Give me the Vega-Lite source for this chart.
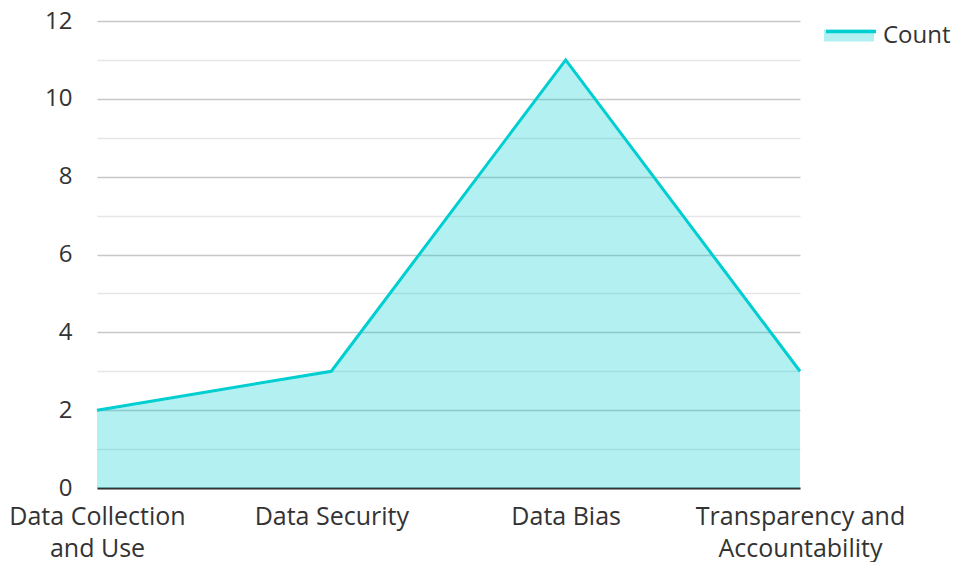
{
  "$schema": "https://vega.github.io/schema/vega-lite/v6.json",
  "width": 703,
  "height": 467,
  "autosize": {"type": "none"},
  "padding": {"left": 97, "top": 21, "right": 156, "bottom": 74},
  "config": {
    "font": "Open Sans",
    "view": {"stroke": null},
    "axis": {"labelFont": "Open Sans", "labelFontSize": 24, "labelColor": "#333333"},
    "legend": {"labelFont": "Open Sans", "labelFontSize": 24, "labelColor": "#333333"}
  },
  "data": {
    "values": [
      {"topic": "Data Collection and Use", "count": 2},
      {"topic": "Data Security", "count": 3},
      {"topic": "Data Bias", "count": 11},
      {"topic": "Transparency and Accountability", "count": 3}
    ]
  },
  "encoding": {
    "x": {
      "field": "topic",
      "type": "ordinal",
      "sort": null,
      "scale": {"type": "point", "padding": 0},
      "axis": {
        "title": null,
        "labelAngle": 0,
        "labelFontSize": 25,
        "labelLimit": 400,
        "ticks": false,
        "domainColor": "#333333",
        "domainWidth": 2,
        "labelPadding": 16,
        "labelLineHeight": 32,
        "labelBaseline": "top",
        "labelExpr": "datum.value == 'Data Collection and Use' ? ['Data Collection', 'and Use'] : datum.value == 'Transparency and Accountability' ? ['Transparency and', 'Accountability'] : datum.label",
        "grid": false
      }
    },
    "y": {
      "field": "count",
      "type": "quantitative",
      "scale": {"domain": [0, 12], "nice": false},
      "axis": {
        "title": null,
        "values": [0, 1, 2, 3, 4, 5, 6, 7, 8, 9, 10, 11, 12],
        "labelExpr": "datum.value % 2 ? '' : datum.label",
        "ticks": false,
        "domain": false,
        "labelPadding": 25,
        "gridColor": {"condition": {"test": "datum.value % 2 === 0", "value": "#c8c8c8"}, "value": "#e6e6e6"},
        "gridWidth": 1.5
      }
    }
  },
  "layer": [
    {
      "mark": {"type": "area", "fillOpacity": 0.3},
      "encoding": {
        "fill": {
          "datum": "Count",
          "scale": {"range": ["#00CED1"]},
          "legend": {
            "title": null,
            "orient": "none",
            "legendX": 727,
            "legendY": -12,
            "symbolType": "M-1,-0.18H1V0.3H-1Z",
            "symbolSize": 2500,
            "symbolOpacity": 0.3,
            "symbolStrokeWidth": 0,
            "labelExpr": "''",
            "labelOffset": 5
          }
        }
      }
    },
    {
      "mark": {"type": "line", "strokeWidth": 3},
      "encoding": {
        "stroke": {
          "datum": "Count",
          "scale": {"range": ["#00CED1"]},
          "legend": {
            "title": null,
            "orient": "none",
            "legendX": 727,
            "legendY": -12,
            "symbolType": "M-1,-0.18H1",
            "symbolSize": 2500,
            "symbolStrokeWidth": 3.5,
            "labelOffset": 5
          }
        }
      }
    }
  ],
  "resolve": {"scale": {"fill": "independent", "stroke": "independent"}, "legend": {"fill": "independent", "stroke": "independent"}}
}
